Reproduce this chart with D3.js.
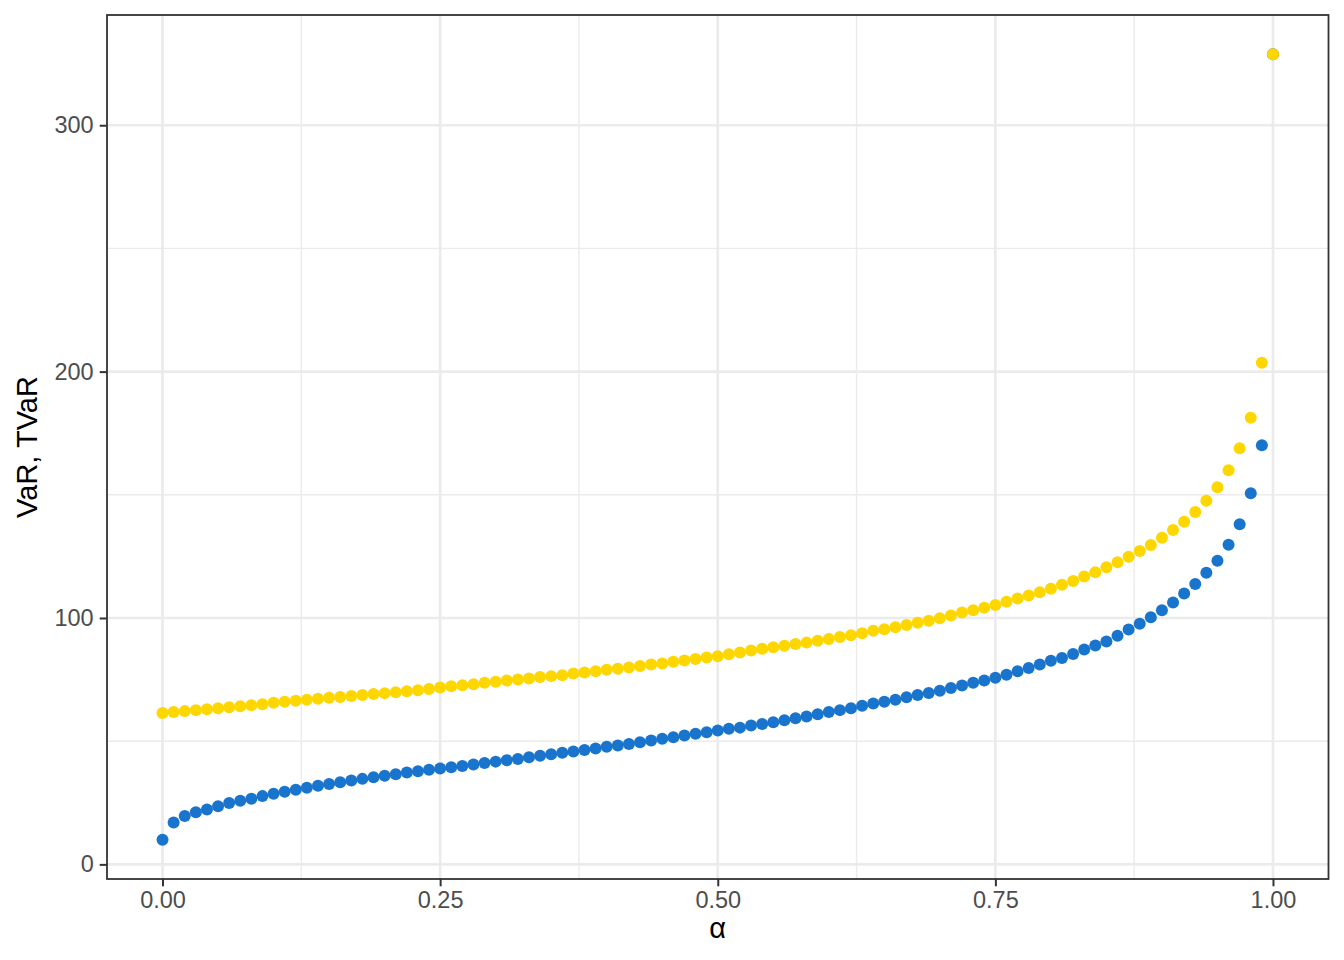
<!DOCTYPE html>
<html>

<head>
  <meta charset="utf-8">
  <script src="https://d3js.org/d3.v7.min.js"></script>
  <style>
    body {
      margin: 0;
      background: #fff;
    }

    svg {
      display: block;
      font-family: "Liberation Sans", Arial, Helvetica, sans-serif;
    }
  </style>
</head>

<body>
  <svg width="1344" height="960"></svg>
  <script>
    // alpha levels (x)
    const alphas = [
      0.00, 0.01, 0.02, 0.03, 0.04, 0.05, 0.06, 0.07, 0.08, 0.09,
      0.10, 0.11, 0.12, 0.13, 0.14, 0.15, 0.16, 0.17, 0.18, 0.19,
      0.20, 0.21, 0.22, 0.23, 0.24, 0.25, 0.26, 0.27, 0.28, 0.29,
      0.30, 0.31, 0.32, 0.33, 0.34, 0.35, 0.36, 0.37, 0.38, 0.39,
      0.40, 0.41, 0.42, 0.43, 0.44, 0.45, 0.46, 0.47, 0.48, 0.49,
      0.50, 0.51, 0.52, 0.53, 0.54, 0.55, 0.56, 0.57, 0.58, 0.59,
      0.60, 0.61, 0.62, 0.63, 0.64, 0.65, 0.66, 0.67, 0.68, 0.69,
      0.70, 0.71, 0.72, 0.73, 0.74, 0.75, 0.76, 0.77, 0.78, 0.79,
      0.80, 0.81, 0.82, 0.83, 0.84, 0.85, 0.86, 0.87, 0.88, 0.89,
      0.90, 0.91, 0.92, 0.93, 0.94, 0.95, 0.96, 0.97, 0.98, 0.99,
      1.00
    ];

    // VaR (blue)
    const varValues = [
      10.0, 17.0, 19.6, 21.2, 22.3, 23.6, 24.9, 25.8, 26.6, 27.7,
      28.7, 29.5, 30.3, 31.1, 31.9, 32.6, 33.3, 34.0, 34.7, 35.4,
      36.0, 36.6, 37.3, 37.8, 38.4, 38.9, 39.4, 39.9, 40.5, 41.1,
      41.7, 42.3, 42.8, 43.5, 44.1, 44.7, 45.3, 45.8, 46.4, 47.0,
      47.7, 48.2, 48.9, 49.6, 50.3, 51.0, 51.6, 52.3, 53.0, 53.6,
      54.3, 55.0, 55.5, 56.4, 57.0, 57.7, 58.5, 59.3, 60.0, 60.9,
      61.8, 62.6, 63.4, 64.4, 65.3, 66.0, 66.8, 67.8, 68.7, 69.6,
      70.5, 71.6, 72.6, 73.7, 74.6, 75.7, 77.0, 78.4, 79.7, 81.1,
      82.6, 83.8, 85.4, 87.2, 88.8, 90.5, 92.8, 95.3, 97.7, 100.3,
      103.1, 106.3, 109.9, 113.8, 118.4, 123.2, 129.7, 138.0, 150.6, 170.1,
      328.8
    ];

    // TVaR (yellow)
    const tvarValues = [
      61.4, 61.8, 62.2, 62.6, 63.0, 63.4, 63.8, 64.2, 64.6, 65.0,
      65.6, 66.0, 66.4, 66.8, 67.2, 67.6, 67.9, 68.3, 68.7, 69.1,
      69.5, 69.9, 70.3, 70.7, 71.2, 71.8, 72.3, 72.7, 73.1, 73.7,
      74.1, 74.6, 75.0, 75.4, 76.0, 76.4, 76.8, 77.5, 77.9, 78.4,
      79.0, 79.4, 79.9, 80.5, 81.1, 81.5, 82.2, 82.7, 83.4, 84.0,
      84.5, 85.3, 86.0, 86.8, 87.5, 88.1, 88.7, 89.4, 90.0, 90.8,
      91.5, 92.3, 93.0, 93.8, 94.8, 95.4, 96.2, 97.2, 98.1, 98.9,
      99.9, 101.0, 102.2, 103.1, 104.2, 105.3, 106.6, 107.9, 109.1, 110.4,
      111.9, 113.5, 115.0, 116.8, 118.6, 120.6, 122.6, 124.9, 127.2, 129.6,
      132.6, 135.7, 139.1, 143.0, 147.6, 153.1, 160.0, 168.9, 181.3, 203.6,
      328.8
    ];

    const xTicks = [0, 0.25, 0.5, 0.75, 1];
    const xTickLabels = ["0.00", "0.25", "0.50", "0.75", "1.00"];
    const xMinor = [0.125, 0.375, 0.625, 0.875];
    const yTicks = [0, 100, 200, 300];
    const yMinor = [50, 150, 250];

    const svg = d3.select("svg");

    // panel box
    const panel = { left: 107, top: 15, right: 1328.5, bottom: 879 };

    // ggplot-style 5% expansion
    function expand(ext) {
      const pad = (ext[1] - ext[0]) * 0.05;
      return [ext[0] - pad, ext[1] + pad];
    }

    const x = d3.scaleLinear()
      .domain(expand(d3.extent(alphas)))
      .range([panel.left, panel.right]);

    const allY = varValues.concat(tvarValues);
    const y = d3.scaleLinear()
      .domain(expand(d3.extent(allY)))
      .range([panel.bottom, panel.top]);

    // grid
    const grid = svg.append("g");
    grid.selectAll(".ymin").data(yMinor).join("line")
      .attr("x1", panel.left).attr("x2", panel.right)
      .attr("y1", d => y(d)).attr("y2", d => y(d))
      .attr("stroke", "#EBEBEB").attr("stroke-width", 1.4);
    grid.selectAll(".xmin").data(xMinor).join("line")
      .attr("y1", panel.top).attr("y2", panel.bottom)
      .attr("x1", d => x(d)).attr("x2", d => x(d))
      .attr("stroke", "#EBEBEB").attr("stroke-width", 1.4);
    grid.selectAll(".ymaj").data(yTicks).join("line")
      .attr("x1", panel.left).attr("x2", panel.right)
      .attr("y1", d => y(d)).attr("y2", d => y(d))
      .attr("stroke", "#EBEBEB").attr("stroke-width", 2.7);
    grid.selectAll(".xmaj").data(xTicks).join("line")
      .attr("y1", panel.top).attr("y2", panel.bottom)
      .attr("x1", d => x(d)).attr("x2", d => x(d))
      .attr("stroke", "#EBEBEB").attr("stroke-width", 2.7);

    // points: VaR first, TVaR on top
    const series = [
      { name: "VaR", values: varValues, color: "#1874CD" },
      { name: "TVaR", values: tvarValues, color: "#FFD700" }
    ];

    series.forEach(s => {
      svg.append("g")
        .selectAll("circle")
        .data(alphas.map((a, i) => ({ a: a, v: s.values[i] })))
        .join("circle")
        .attr("cx", d => x(d.a))
        .attr("cy", d => y(d.v))
        .attr("r", 6)
        .attr("fill", s.color);
    });

    // panel border
    svg.append("rect")
      .attr("x", panel.left).attr("y", panel.top)
      .attr("width", panel.right - panel.left)
      .attr("height", panel.bottom - panel.top)
      .attr("fill", "none")
      .attr("stroke", "#333333")
      .attr("stroke-width", 1.8);

    // axes
    const xAxis = d3.axisBottom(x)
      .tickValues(xTicks)
      .tickFormat((d, i) => xTickLabels[i])
      .tickSize(7.3)
      .tickPadding(5);

    const yAxis = d3.axisLeft(y)
      .tickValues(yTicks)
      .tickFormat(d3.format("d"))
      .tickSize(7.3)
      .tickPadding(6);

    const gx = svg.append("g")
      .attr("transform", `translate(0,${panel.bottom})`)
      .call(xAxis);
    const gy = svg.append("g")
      .attr("transform", `translate(${panel.left},0)`)
      .call(yAxis);

    [gx, gy].forEach(g => {
      g.select(".domain").remove();
      g.selectAll(".tick line").attr("stroke", "#333333").attr("stroke-width", 2);
      g.selectAll(".tick text")
        .attr("fill", "#4D4D4D")
        .style("font-size", "23.5px")
        .style("font-family", "'Liberation Sans', Arial, sans-serif");
    });

    // axis titles
    svg.append("text")
      .attr("x", (panel.left + panel.right) / 2)
      .attr("y", 938)
      .attr("text-anchor", "middle")
      .style("font-size", "29px")
      .attr("fill", "#000")
      .text("α");

    svg.append("text")
      .attr("transform", `translate(37,${(panel.top + panel.bottom) / 2}) rotate(-90)`)
      .attr("text-anchor", "middle")
      .style("font-size", "29px")
      .attr("fill", "#000")
      .text("VaR, TVaR");
  </script>

</body>

</html>
